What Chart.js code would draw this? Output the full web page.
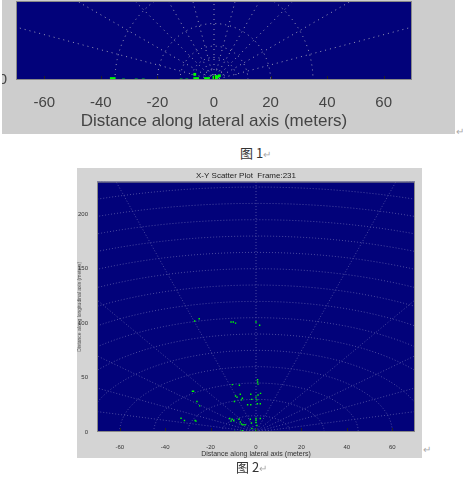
<!DOCTYPE html>
<html>
<head>
<meta charset="utf-8">
<script src="https://cdn.jsdelivr.net/npm/chart.js@4.4.0/dist/chart.umd.min.js"></script>
<style>
  body { margin: 0; background: #fff; width: 463px; height: 480px; position: relative; overflow: hidden; }
  .panel { position: absolute; }
  .cap { position: absolute; font-family: "Noto Sans CJK SC", sans-serif; font-size: 13px; color: #333; }
  .ret { color: #aaa; font-size: 10px; }
</style>
</head>
<body>
<div class="panel" style="left:2px;top:-9px;width:453px;height:143px;background:#cdcdcd"><canvas id="fig1"></canvas></div>
<span class="ret" style="position:absolute;left:456px;top:126px">↵</span>
<div class="cap" style="left:240px;top:143px">图 1<span class="ret">↵</span></div>
<div class="panel" style="left:77px;top:168px;width:345px;height:290px;background:#d4d4d4"><canvas id="fig2"></canvas></div>
<span class="ret" style="position:absolute;left:423px;top:444px">↵</span>
<div class="cap" style="left:236px;top:457px">图 2<span class="ret">↵</span></div>
<script>
// Figure 1 detections (meters)
const fig1Big = [{x:-35.8,y:0},{x:-6.3,y:0},{x:-2.5,y:0},{x:0.5,y:0.5}];
const fig1Small = [{x:-32,y:0},{x:-27.5,y:0},{x:-25,y:0},{x:-11.6,y:0},{x:-9.6,y:0},{x:-6.8,y:2},{x:1.9,y:1.5},{x:0.8,y:1.2}];
const fig1Ticks = [-60,-40,-20,0,20,40,60];
const fig1Arcs = [2,4,8,12,20,35];

// Figure 2 detections (meters)
const fig2Points = [
  {x:-27,y:102},{x:-25,y:104},{x:-11,y:101},{x:-10,y:101},{x:-9,y:100},{x:0,y:101},{x:1.6,y:98},
  {x:0.7,y:48},{x:0.7,y:46},{x:0.9,y:44},{x:-10.4,y:43.5},{x:-7.3,y:43},
  {x:-28,y:37.5},{x:-27.5,y:37.5},{x:-26,y:28},{x:-24.8,y:24},
  {x:-9,y:33},{x:-8.3,y:32},{x:-6.9,y:34.6},{x:-6,y:31},{x:-6.4,y:29.5},{x:-9.5,y:28},
  {x:-2.3,y:34.6},{x:-1.9,y:30},{x:-3.7,y:25},{x:-2.3,y:25},{x:0,y:32},{x:0.4,y:29.5},
  {x:0.9,y:34},{x:2,y:35.5},{x:0.6,y:26},{x:1.9,y:26},
  {x:-33,y:12.7},{x:-31.5,y:10.5},{x:-26.8,y:10.5},{x:-26.4,y:10},
  {x:-11.6,y:12.4},{x:-10.5,y:11.7},{x:-9.8,y:10.5},{x:-11,y:10},
  {x:-7.5,y:11.7},{x:-6.9,y:9.2},{x:-6.4,y:7.3},{x:-5.7,y:6.7},{x:-4.8,y:6.7},
  {x:-2.5,y:11.7},{x:-2,y:8.3},{x:0,y:12.4},{x:0,y:10.5},{x:0,y:8.6},{x:0.4,y:6},{x:1.9,y:12.4},
  {x:-1.8,y:3.2},{x:0,y:1.6},{x:0.4,y:0.6},
  {x:-11.6,y:0.3},{x:-9.4,y:0.6},{x:-6.9,y:0.6},{x:-6,y:1.3}
];
const fig2XTicks = [-60,-40,-20,0,20,40,60];
const fig2YTicks = [0,50,100,150,200];
const fig2Arcs = [15,30,45,60,75,90,105,120,135,150,165,180,195,210,225,240,255,270];

const spokeAngles = [-75,-60,-45,-30,-15,0,15,30,45,60,75];

// background + polar grid drawn through the scales
function polarPlugin(arcs, dash, color) {
  return {
    id: 'polar',
    beforeDatasetsDraw(chart) {
      const {ctx, chartArea: a, scales: {x, y}} = chart;
      ctx.save();
      ctx.fillStyle = '#02027a';
      ctx.fillRect(a.left, a.top, a.right - a.left, a.bottom - a.top);
      ctx.beginPath();
      ctx.rect(a.left, a.top, a.right - a.left, a.bottom - a.top);
      ctx.clip();
      ctx.strokeStyle = color;
      ctx.lineWidth = 1;
      ctx.setLineDash(dash);
      const R = 400;
      spokeAngles.forEach(d => {
        const t = d * Math.PI / 180;
        ctx.beginPath();
        ctx.moveTo(x.getPixelForValue(0), y.getPixelForValue(0));
        ctx.lineTo(x.getPixelForValue(R * Math.sin(t)), y.getPixelForValue(R * Math.cos(t)));
        ctx.stroke();
      });
      arcs.forEach(r => {
        ctx.beginPath();
        for (let d = -90; d <= 90; d += 2) {
          const t = d * Math.PI / 180;
          const px = x.getPixelForValue(r * Math.sin(t)), py = y.getPixelForValue(r * Math.cos(t));
          if (d === -90) ctx.moveTo(px, py); else ctx.lineTo(px, py);
        }
        ctx.stroke();
      });
      ctx.restore();
    },
    afterDraw(chart) {
      const {ctx, chartArea: a, scales: {x}} = chart;
      ctx.save();
      ctx.strokeStyle = '#222';
      ctx.lineWidth = 1;
      x.ticks.forEach(t => {
        const px = Math.round(x.getPixelForValue(t.value)) + 0.5;
        ctx.beginPath(); ctx.moveTo(px, a.bottom); ctx.lineTo(px, a.bottom - 4); ctx.stroke();
      });
      ctx.strokeStyle = '#888';
      ctx.strokeRect(a.left + 0.5, a.top + 0.5, a.right - a.left - 1, a.bottom - a.top - 1);
      ctx.restore();
    }
  };
}

Chart.defaults.font.family = '"Liberation Sans", Arial, sans-serif';
Chart.defaults.color = '#333';

// Figure 1
new Chart(document.getElementById('fig1'), {
  type: 'scatter',
  data: {
    datasets: [
      {data: fig1Big, pointStyle: 'rect', pointRadius: 4, backgroundColor: '#00ff00', borderWidth: 0},
      {data: fig1Small, pointStyle: 'rect', pointRadius: 2, backgroundColor: '#00ff00', borderWidth: 0}
    ]
  },
  options: {
    responsive: true, maintainAspectRatio: false, animation: false,
    layout: {padding: {top: 0, right: 43, bottom: 0, left: 0}},
    plugins: {legend: {display: false}, tooltip: {enabled: false}},
    scales: {
      x: {
        type: 'linear', min: -70, max: 70,
        afterBuildTicks: s => { s.ticks = fig1Ticks.map(v => ({value: v})); },
        afterFit: s => { s.height = 54; },
        grid: {display: false}, border: {display: false},
        ticks: {font: {size: 15}, color: '#444', padding: 6},
        title: {display: true, text: 'Distance along lateral axis (meters)', font: {size: 17}, color: '#444', padding: 2}
      },
      y: {
        type: 'linear', min: 0, max: 28,
        afterBuildTicks: s => { s.ticks = [{value: 0}]; },
        afterFit: s => { s.width = 14; },
        grid: {display: false}, border: {display: false},
        ticks: {font: {size: 15}, color: '#444', padding: 1}
      }
    }
  },
  plugins: [polarPlugin(fig1Arcs, [1, 4], '#9a9ab8')]
});

// Figure 2
new Chart(document.getElementById('fig2'), {
  type: 'scatter',
  data: {
    datasets: [
      {data: fig2Points, pointStyle: 'rect', pointRadius: 1, backgroundColor: '#00ff00', borderWidth: 0}
    ]
  },
  options: {
    responsive: true, maintainAspectRatio: false, animation: false,
    layout: {padding: {top: 0, right: 7, bottom: 0, left: 0}},
    plugins: {
      legend: {display: false}, tooltip: {enabled: false},
      title: {display: true, text: 'X-Y Scatter Plot  Frame:231', font: {size: 8, weight: 'normal'}, color: '#222', padding: {top: 3, bottom: 1}}
    },
    scales: {
      x: {
        type: 'linear', min: -70, max: 70,
        afterBuildTicks: s => { s.ticks = fig2XTicks.map(v => ({value: v})); },
        afterFit: s => { s.height = 26; },
        grid: {display: false}, border: {display: false},
        ticks: {font: {size: 6}, color: '#333', padding: 4},
        title: {display: true, text: 'Distance along lateral axis (meters)', font: {size: 7}, color: '#333', padding: 0}
      },
      y: {
        type: 'linear', min: 0, max: 230,
        afterBuildTicks: s => { s.ticks = fig2YTicks.map(v => ({value: v})); },
        afterFit: s => { s.width = 20; },
        grid: {display: false}, border: {display: false},
        ticks: {font: {size: 6}, color: '#333', padding: 1},
        title: {display: true, text: 'Distance along longitudinal axis (meters)', font: {size: 5}, color: '#555', padding: 0}
      }
    }
  },
  plugins: [polarPlugin(fig2Arcs, [1, 2], '#4a4aa0')]
});
</script>
</body>
</html>
